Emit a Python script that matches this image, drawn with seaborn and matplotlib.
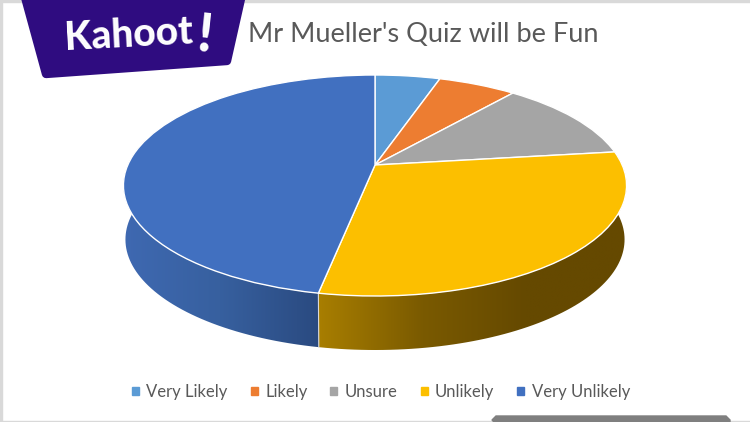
import numpy as np
import matplotlib
matplotlib.use('Agg')
import matplotlib.pyplot as plt
import seaborn as sns
from matplotlib.colors import LinearSegmentedColormap
from matplotlib.patches import Patch, Polygon, Rectangle
from matplotlib.transforms import Transform

categories = ['Very Likely', 'Likely', 'Unsure', 'Unlikely', 'Very Unlikely']
shares = [5, 6, 12, 30, 47]
colors = ['#5B9BD5', '#ED7D31', '#A5A5A5', '#FCBF00', '#4170C0']
title = "Mr Mueller's Quiz will be Fun"

sns.set_theme(style='white')
plt.rcParams['font.family'] = ['Lato', 'DejaVu Sans']


class Tilt(Transform):
    """Unit disc -> picture pixels, the pie seen from above with the front nearer"""
    input_dims = output_dims = 2

    def __init__(self, drop=0.0, squeeze=1.0):
        super().__init__()
        self.drop = drop
        self.squeeze = squeeze

    def transform_non_affine(self, xy):
        xy = np.asarray(xy, dtype=float)
        d = 1 + 0.1855 * xy[:, 1]
        return np.column_stack([375 + self.squeeze * 247.2 * xy[:, 0] / d,
                                165 - 106.7 * xy[:, 1] / d + self.drop])

    def inverted(self):
        raise NotImplementedError


fig = plt.figure(figsize=(7.5, 4.22), dpi=100)
ax = fig.add_axes([0, 0, 1, 1])

wedges, _ = ax.pie(shares, colors=colors, startangle=90, counterclock=False, frame=True,
                   wedgeprops={'edgecolor': 'white', 'linewidth': 1.0, 'zorder': 5})
ax.set_aspect('auto')
top = Tilt()
for w in wedges:
    w.set_transform(top + ax.transData)


def side_wall(t1, t2, stops, x0, x1):
    # band between the rim and the same rim dropped down, shaded left to right
    t = np.radians(np.linspace(t1, t2, 80))
    rim = np.column_stack([np.cos(t), np.sin(t)])
    upper = top.transform_non_affine(rim)
    lower = Tilt(drop=54, squeeze=0.992).transform_non_affine(rim)
    outline = np.vstack([upper, lower[::-1]])
    cmap = LinearSegmentedColormap.from_list('wall', stops)
    im = ax.imshow(np.linspace(0, 1, 256)[None, :], cmap=cmap, aspect='auto', zorder=2,
                   extent=(x0, x1, 360, 140), interpolation='bilinear')
    im.set_clip_path(Polygon(outline, transform=ax.transData))
    return lower


blue, yellow = wedges[4], wedges[3]
side_wall(blue.theta2 - 115, blue.theta2, ['#3F69B2', '#37609F', '#2A4A80'], 120, 320)
low = side_wall(yellow.theta1, yellow.theta2, ['#A87E00', '#7A5A00', '#654900', '#654900'], 319, 630)

# thin light seam where the two walls meet
t = np.radians(yellow.theta1)
seam_top = top.transform_non_affine(np.array([[np.cos(t), np.sin(t)]]))[0]
ax.plot([seam_top[0], low[0, 0]], [seam_top[1], low[0, 1]], color='#D9D9D9', lw=0.8, zorder=3)

ax.set_xlim(0, 750)
ax.set_ylim(422, 0)
ax.set_xticks([])
ax.set_yticks([])
for s in ax.spines.values():
    s.set_visible(False)

ax.text(248, 34, title, fontsize=19.5, color='#595959', va='center', ha='left', zorder=6)

handles = [Patch(color=c, label=n) for c, n in zip(colors, categories)]
ax.legend(handles=handles, ncol=5, loc='center', bbox_to_anchor=(381 / 750, 1 - 392 / 422),
          frameon=False, fontsize=12, labelcolor='#595959', handlelength=0.42, handleheight=0.42,
          handletextpad=0.45, columnspacing=1.37)

# Kahoot badge over the top left corner
ax.add_patch(Polygon([[23, -10], [243, -10], [227, 61], [46, 74]], closed=True, facecolor='#2F0C80',
                     edgecolor='#2F0C80', linewidth=6, joinstyle='round', zorder=7))
ax.text(129, 35, 'Kahoot', fontsize=28, fontweight='black', color='white', ha='center', va='center',
        rotation=3, zorder=8)
ax.text(205, 36, '!', fontsize=38, fontweight='black', color='white', ha='center', va='center',
        rotation=-6, zorder=8)

# page edges and the bar at the bottom right
ax.add_patch(Rectangle((0, 0), 750, 1.5, color='#D9D9D9', zorder=6))
ax.add_patch(Rectangle((0, 0), 2, 422, color='#D9D9D9', zorder=6))
ax.add_patch(Rectangle((0, 420.5), 750, 2, color='#D9D9D9', zorder=6))
ax.add_patch(Polygon([[496, 424], [730, 424], [730, 420], [726, 416], [496, 416], [492, 420]],
                     closed=True, color='#7F7F7F', zorder=7))

fig.savefig('out.png', dpi=100)
